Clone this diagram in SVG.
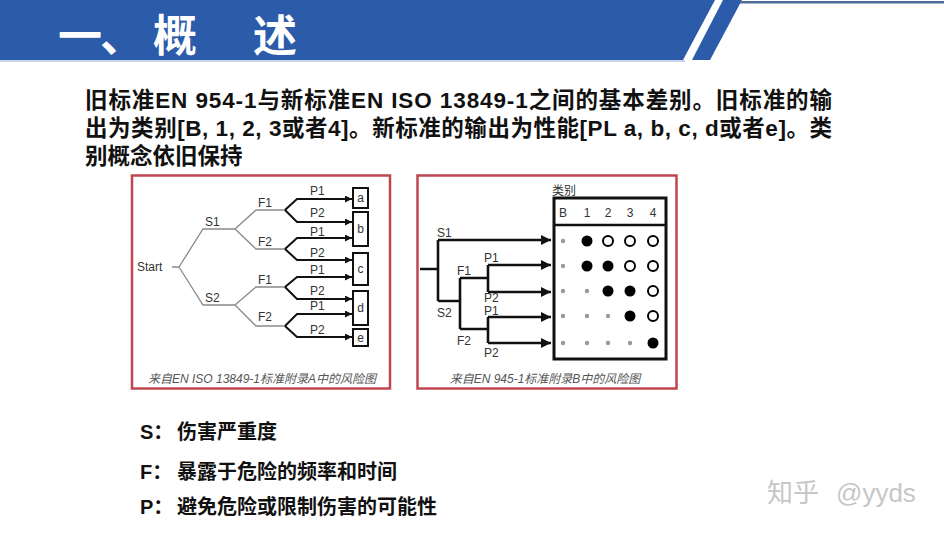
<svg xmlns="http://www.w3.org/2000/svg" width="944" height="535" viewBox="0 0 944 535">
<defs>
<style>
.lbl{font-family:"Liberation Sans","Noto Sans CJK SC",sans-serif;font-size:12px;fill:#333}
.gl{fill:none;stroke:#8a8a8a;stroke-width:1.3}
.bl{fill:none;stroke:#111;stroke-width:2}
.rb{fill:none;stroke:#111;stroke-width:2.6}
.box{fill:#fff;stroke:#111;stroke-width:2}
.frame{fill:#fff;stroke:#c0454f;stroke-width:2.5}
.cap{font-family:"Liberation Sans","Noto Sans CJK SC",sans-serif;font-size:12px;font-style:italic;fill:#555;text-anchor:middle}
.para{font-family:"Liberation Sans","Noto Sans CJK SC",sans-serif;font-size:22.5px;font-weight:bold;fill:#111}
.leg{font-family:"Liberation Sans","Noto Sans CJK SC",sans-serif;font-size:20px;font-weight:bold;fill:#111}
.big{fill:#000}
.open{fill:#fff;stroke:#000;stroke-width:2}
.dot{fill:#999}
</style>
<marker id="ah" viewBox="0 0 10 10" refX="10" refY="5" markerWidth="8" markerHeight="7" markerUnits="userSpaceOnUse" orient="auto"><path d="M0,0 L10,5 L0,10 z" fill="#111"/></marker>
<marker id="ah2" viewBox="0 0 10 10" refX="10" refY="5" markerWidth="11" markerHeight="10" markerUnits="userSpaceOnUse" orient="auto"><path d="M0,0 L10,5 L0,10 z" fill="#111"/></marker>
</defs>
<rect width="944" height="535" fill="#fff"/>
<g id="header">
<polygon points="0,0 715,0 683,60 0,60" fill="#2b5ba9"/>
<polygon points="723,0 742,0 710,60 692,60" fill="#2b5ba9"/>
<rect x="740" y="1" width="204" height="2.5" fill="#4f6d9a"/>
<rect x="0" y="60" width="685" height="2" fill="#c9d6ea"/>
<g font-family="'Noto Sans CJK SC',sans-serif" font-size="44" font-weight="bold" fill="#fff">
<text x="58" y="52">一</text>
<text x="100" y="52">、</text>
<text x="153" y="52">概</text>
<text x="253" y="52">述</text>
</g>
</g>
<g id="intro">
<text class="para" x="85" y="108" textLength="747" lengthAdjust="spacing">旧标准EN 954-1与新标准EN ISO 13849-1之间的基本差别。旧标准的输</text>
<text class="para" x="85" y="136" textLength="747" lengthAdjust="spacing">出为类别[B, 1, 2, 3或者4]。新标准的输出为性能[PL a, b, c, d或者e]。类</text>
<text class="para" x="85" y="164">别概念依旧保持</text>
</g>
<g id="fig-a">
<rect class="frame" x="132" y="175.5" width="258" height="213"/>
<g id="fig-a-connectors">
<path class="gl" d="M172,267 H179 L203,229 H235 M179,267 L203,305 H235"/>
<path class="gl" d="M235,229 L256,210 H285 M235,229 L256,249 H285 M235,305 L256,287 H285 M235,305 L256,326 H285"/>
<path class="bl" marker-end="url(#ah)" d="M285,210 L297,199 H352"/>
<path class="bl" marker-end="url(#ah)" d="M285,210 L297,222 H352"/>
<path class="bl" marker-end="url(#ah)" d="M285,249 L297,238 H352"/>
<path class="bl" marker-end="url(#ah)" d="M285,249 L297,260 H352"/>
<path class="bl" marker-end="url(#ah)" d="M285,287 L297,277 H352"/>
<path class="bl" marker-end="url(#ah)" d="M285,287 L297,299 H352"/>
<path class="bl" marker-end="url(#ah)" d="M285,326 L297,314 H352"/>
<path class="bl" marker-end="url(#ah)" d="M285,326 L297,337 H352"/>
</g>
<text class="lbl" x="137" y="271" font-size="11">Start</text>
<text class="lbl" x="205" y="226">S1</text>
<text class="lbl" x="205" y="302">S2</text>
<text class="lbl" x="258" y="207">F1</text>
<text class="lbl" x="258" y="246">F2</text>
<text class="lbl" x="258" y="284">F1</text>
<text class="lbl" x="258" y="321">F2</text>
<text class="lbl" x="310" y="195">P1</text>
<text class="lbl" x="310" y="217">P2</text>
<text class="lbl" x="310" y="236">P1</text>
<text class="lbl" x="310" y="257">P2</text>
<text class="lbl" x="310" y="274">P1</text>
<text class="lbl" x="310" y="295">P2</text>
<text class="lbl" x="310" y="310">P1</text>
<text class="lbl" x="310" y="334">P2</text>
<g id="out-a"><rect class="box" x="353" y="188" width="15" height="20"/><text class="lbl" x="360.5" y="202" text-anchor="middle" font-size="11">a</text></g>
<g id="out-b"><rect class="box" x="353" y="212" width="15" height="34"/><text class="lbl" x="360.5" y="233" text-anchor="middle" font-size="11">b</text></g>
<g id="out-c"><rect class="box" x="353" y="253" width="15" height="32"/><text class="lbl" x="360.5" y="273" text-anchor="middle" font-size="11">c</text></g>
<g id="out-d"><rect class="box" x="353" y="291" width="15" height="34"/><text class="lbl" x="360.5" y="312" text-anchor="middle" font-size="11">d</text></g>
<g id="out-e"><rect class="box" x="353" y="329" width="15" height="17"/><text class="lbl" x="360.5" y="341.5" text-anchor="middle" font-size="11">e</text></g>
<text class="cap" x="262" y="383">来自EN ISO 13849-1标准附录A中的风险图</text>
</g>
<g id="fig-b">
<rect class="frame" x="417.5" y="175.5" width="259" height="213"/>
<g id="fig-b-connectors">
<path class="rb" d="M420,269 H438 M438,240 V301 M438,301 H460 M460,278 V329 M460,278 H488 M460,329 H488 M488,265 V292 M488,317 V343"/>
<path class="rb" marker-end="url(#ah2)" d="M438,240 H551"/>
<path class="rb" marker-end="url(#ah2)" d="M488,265 H551"/>
<path class="rb" marker-end="url(#ah2)" d="M488,292 H551"/>
<path class="rb" marker-end="url(#ah2)" d="M488,317 H551"/>
<path class="rb" marker-end="url(#ah2)" d="M488,343 H551"/>
</g>
<text class="lbl" x="437" y="237" font-size="13">S1</text>
<text class="lbl" x="437" y="317" font-size="13">S2</text>
<text class="lbl" x="457" y="275" font-size="13">F1</text>
<text class="lbl" x="457" y="345" font-size="13">F2</text>
<text class="lbl" x="484" y="262" font-size="13">P1</text>
<text class="lbl" x="484" y="302">P2</text>
<text class="lbl" x="484" y="315">P1</text>
<text class="lbl" x="484" y="357" font-size="13">P2</text>
<g id="category-table">
<text class="lbl" x="552" y="195" font-size="13" fill="#444">类别</text>
<rect x="554" y="198" width="112" height="161" fill="#fff" stroke="#111" stroke-width="3"/>
<line x1="554" y1="225" x2="666" y2="225" stroke="#111" stroke-width="2.5"/>
<g class="lbl" font-size="13" text-anchor="middle">
<text x="563" y="217">B</text><text x="587" y="217">1</text><text x="608" y="217">2</text><text x="630" y="217">3</text><text x="653" y="217">4</text>
</g>
<circle class="dot" cx="563" cy="241" r="2.2"/><circle class="big" cx="587" cy="241" r="5.5"/><circle class="open" cx="608" cy="241" r="5"/><circle class="open" cx="630" cy="241" r="5"/><circle class="open" cx="653" cy="241" r="5"/>
<circle class="dot" cx="563" cy="266" r="2.2"/><circle class="big" cx="587" cy="266" r="5.5"/><circle class="big" cx="608" cy="266" r="5.5"/><circle class="open" cx="630" cy="266" r="5"/><circle class="open" cx="653" cy="266" r="5"/>
<circle class="dot" cx="563" cy="291" r="2.2"/><circle class="dot" cx="587" cy="291" r="2.2"/><circle class="big" cx="608" cy="291" r="5.5"/><circle class="big" cx="630" cy="291" r="5.5"/><circle class="open" cx="653" cy="291" r="5"/>
<circle class="dot" cx="563" cy="316" r="2.2"/><circle class="dot" cx="587" cy="316" r="2.2"/><circle class="dot" cx="608" cy="316" r="2.2"/><circle class="big" cx="630" cy="316" r="5.5"/><circle class="open" cx="653" cy="316" r="5"/>
<circle class="dot" cx="563" cy="343" r="2.2"/><circle class="dot" cx="587" cy="343" r="2.2"/><circle class="dot" cx="608" cy="343" r="2.2"/><circle class="dot" cx="630" cy="343" r="2.2"/><circle class="big" cx="653" cy="343" r="5.5"/>
</g>
<text class="cap" x="545" y="383">来自EN 945-1标准附录B中的风险图</text>
</g>
<g id="legend">
<text class="leg" x="140" y="439">S：<tspan x="177">伤害严重度</tspan></text>
<text class="leg" x="140" y="479">F：<tspan x="177">暴露于危险的频率和时间</tspan></text>
<text class="leg" x="140" y="514">P：<tspan x="177">避免危险或限制伤害的可能性</tspan></text>
</g>
<g id="watermark" font-family="'Noto Sans CJK SC','Liberation Sans',sans-serif" font-size="26" fill="#c6c6c6">
<text x="767" y="502">知乎 <tspan x="836" font-family="'Liberation Sans',sans-serif">@yyds</tspan></text>
</g>
</svg>
